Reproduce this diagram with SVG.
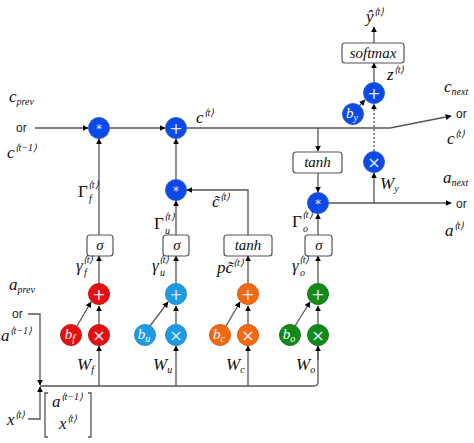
<svg xmlns="http://www.w3.org/2000/svg" width="474" height="443" viewBox="0 0 474 443">
<defs>
<marker id="ah" viewBox="0 0 10 10" refX="9" refY="5" markerWidth="6" markerHeight="6" orient="auto" markerUnits="userSpaceOnUse"><path d="M0,0 L10,5 L0,10 z" fill="#000"/></marker>
</defs>
<style>
.ln{fill:none;stroke:#555;stroke-width:1.3}
.ar{marker-end:url(#ah)}
.dot{stroke-dasharray:2,2}
.bx{fill:#fff;stroke:#555;stroke-width:1.2}
.m{font-family:"Liberation Serif","Times New Roman",serif;font-style:italic;font-size:17px;fill:#111}
.up{font-style:normal}
.s{font-size:10px}
.bt{font-family:"Liberation Serif","Times New Roman",serif;font-style:italic;font-size:15px;fill:#111;text-anchor:middle}
.or{font-family:"Liberation Sans",Arial,sans-serif;font-size:12px;fill:#222}
.op{font-family:"DejaVu Sans","Liberation Sans",sans-serif;font-size:16px;fill:#dfe8ff;text-anchor:middle}
.st{font-size:12px}
.bl{font-family:"Liberation Serif","Times New Roman",serif;font-style:italic;font-size:15px;fill:#fff;text-anchor:middle}
.blue{fill:#0b4ae6;stroke:#2d5fd0;stroke-width:1}
.red{fill:#e3100f;stroke:#c01818;stroke-width:1}
.lb{fill:#1d9be6;stroke:#2a88c8;stroke-width:1}
.org{fill:#f26910;stroke:#d85a10;stroke-width:1}
.grn{fill:#13891a;stroke:#137a18;stroke-width:1}
</style>
<g id="connectors">
<path class="ln ar" d="M35,128 H88"/>
<path class="ln ar" d="M110,128 H165"/>
<path class="ln ar" d="M187,128 H390 L451,116"/>
<path class="ln ar" d="M318,128 V151"/>
<path class="ln ar" d="M318,173 V192"/>
<path class="ln ar" d="M329,203 H451"/>
<path class="ln ar" d="M374,203 V173"/>
<path class="ln ar dot" d="M374,151 V104"/>
<path class="ln ar" d="M374,82 V63"/>
<path class="ln ar" d="M374,43 V27"/>
<path class="ln ar" d="M359,106 L365,100"/>
<path class="ln ar" d="M99,235 V139"/>
<path class="ln ar" d="M176,235 V201"/>
<path class="ln ar" d="M176,179 V139"/>
<path class="ln ar" d="M248,235 V190 H187"/>
<path class="ln ar" d="M318,235 V214"/>
<path class="ln ar" d="M99,324 V306"/>
<path class="ln ar" d="M176,324 V306"/>
<path class="ln ar" d="M248,324 V306"/>
<path class="ln ar" d="M318,324 V306"/>
<path class="ln ar" d="M99,283 V256"/>
<path class="ln ar" d="M176,283 V256"/>
<path class="ln ar" d="M248,283 V256"/>
<path class="ln ar" d="M318,283 V256"/>
<path class="ln ar" d="M77,326 L91,302"/>
<path class="ln ar" d="M150,326 L168,302"/>
<path class="ln ar" d="M226,326 L240,302"/>
<path class="ln ar" d="M295,326 L310,302"/>
<path class="ln" d="M40,386 H314 Q318,386 318,382 V346"/>
<path class="ln ar" d="M318,360 V346"/>
<path class="ln ar" d="M99,386 V346"/>
<path class="ln ar" d="M176,386 V346"/>
<path class="ln ar" d="M248,386 V346"/>
<path class="ln ar" d="M28,314 H40 V385"/>
<path class="ln ar" d="M28,419 H40 V387"/>
</g>
<g id="node-forget-mul"><circle class="blue" cx="99" cy="128" r="10.5"/><text class="op st" x="99" y="133">*</text></g>
<g id="node-c-add"><circle class="blue" cx="176" cy="128" r="10.5"/><text class="op" x="176" y="134">+</text></g>
<g id="node-update-mul"><circle class="blue" cx="176" cy="190" r="10.5"/><text class="op st" x="176" y="195">*</text></g>
<g id="node-out-mul"><circle class="blue" cx="318" cy="203" r="10.5"/><text class="op st" x="318" y="208">*</text></g>
<g id="node-tanh-c"><rect class="bx" x="293" y="152" width="49" height="21" rx="3"/><text class="bt" x="317.5" y="167">tanh</text></g>
<g id="node-wy-mul"><circle class="blue" cx="374" cy="162" r="10.5"/><text class="op" x="374" y="168">×</text></g>
<g id="node-y-add"><circle class="blue" cx="374" cy="93" r="10.5"/><text class="op" x="374" y="99">+</text></g>
<g id="node-by"><circle class="blue" cx="353" cy="114" r="10.5"/><text class="bl" x="352" y="118">b<tspan class="s" dy="3">y</tspan></text></g>
<g id="node-softmax"><rect class="bx" x="342" y="43" width="62" height="20" rx="3"/><text class="bt" x="373" y="58">softmax</text></g>

<g id="node-sig-f"><rect class="bx" x="87" y="235" width="26" height="21" rx="3"/><text class="bt" x="100" y="250">σ</text></g>
<g id="node-add-f"><circle class="red" cx="99" cy="294" r="10.5"/><text class="op" x="99" y="300">+</text></g>
<g id="node-mul-f"><circle class="red" cx="99" cy="335" r="10.5"/><text class="op" x="99" y="341">×</text></g>
<g id="node-bf"><circle class="red" cx="71" cy="335" r="10.5"/><text class="bl" x="70" y="339">b<tspan class="s" dy="3">f</tspan></text></g>

<g id="node-sig-u"><rect class="bx" x="163" y="235" width="26" height="21" rx="3"/><text class="bt" x="177" y="250">σ</text></g>
<g id="node-add-u"><circle class="lb" cx="176" cy="294" r="10.5"/><text class="op" x="176" y="300">+</text></g>
<g id="node-mul-u"><circle class="lb" cx="176" cy="335" r="10.5"/><text class="op" x="176" y="341">×</text></g>
<g id="node-bu"><circle class="lb" cx="145" cy="335" r="10.5"/><text class="bl" x="144" y="339">b<tspan class="s" dy="3">u</tspan></text></g>

<g id="node-tanh-cand"><rect class="bx" x="224" y="235" width="48" height="21" rx="3"/><text class="bt" x="248" y="250">tanh</text></g>
<g id="node-add-c"><circle class="org" cx="248" cy="294" r="10.5"/><text class="op" x="248" y="300">+</text></g>
<g id="node-mul-c"><circle class="org" cx="248" cy="335" r="10.5"/><text class="op" x="248" y="341">×</text></g>
<g id="node-bc"><circle class="org" cx="220" cy="335" r="10.5"/><text class="bl" x="219" y="339">b<tspan class="s" dy="3">c</tspan></text></g>

<g id="node-sig-o"><rect class="bx" x="305" y="235" width="27" height="21" rx="3"/><text class="bt" x="319" y="250">σ</text></g>
<g id="node-add-o"><circle class="grn" cx="318" cy="294" r="10.5"/><text class="op" x="318" y="300">+</text></g>
<g id="node-mul-o"><circle class="grn" cx="318" cy="335" r="10.5"/><text class="op" x="318" y="341">×</text></g>
<g id="node-bo"><circle class="grn" cx="290" cy="335" r="10.5"/><text class="bl" x="289" y="339">b<tspan class="s" dy="3">o</tspan></text></g>

<g id="labels">
<text class="m" x="9" y="102">c<tspan class="s" dy="3">prev</tspan></text>
<text class="or" x="16" y="132">or</text>
<text class="m" x="7" y="158">c<tspan class="s" dy="-7">⟨t−1⟩</tspan></text>
<text class="m" x="196" y="123">c<tspan class="s" dy="-7">⟨t⟩</tspan></text>
<text class="m" x="78" y="197"><tspan class="up">Γ</tspan><tspan class="s" dy="-9">⟨t⟩</tspan><tspan class="s" x="89" dy="14">f</tspan></text>
<text class="m" x="154" y="229"><tspan class="up">Γ</tspan><tspan class="s" dy="-9">⟨t⟩</tspan><tspan class="s" x="165" dy="14">u</tspan></text>
<text class="m" x="292" y="227"><tspan class="up">Γ</tspan><tspan class="s" dy="-9">⟨t⟩</tspan><tspan class="s" x="303" dy="14">o</tspan></text>
<text class="m" x="212" y="207">c̃<tspan class="s" dy="-7">⟨t⟩</tspan></text>
<text class="m" x="76" y="271">γ<tspan class="s" dy="-8">⟨t⟩</tspan><tspan class="s" x="84" dy="13">f</tspan></text>
<text class="m" x="152" y="271">γ<tspan class="s" dy="-8">⟨t⟩</tspan><tspan class="s" x="160" dy="13">u</tspan></text>
<text class="m" x="217" y="273">pc̃<tspan class="s" dy="-7">⟨t⟩</tspan></text>
<text class="m" x="292" y="271">γ<tspan class="s" dy="-8">⟨t⟩</tspan><tspan class="s" x="300" dy="13">o</tspan></text>
<text class="m" x="77" y="370">W<tspan class="s" dy="3">f</tspan></text>
<text class="m" x="153" y="370">W<tspan class="s" dy="3">u</tspan></text>
<text class="m" x="226" y="370">W<tspan class="s" dy="3">c</tspan></text>
<text class="m" x="296" y="370">W<tspan class="s" dy="3">o</tspan></text>
<text class="m" x="380" y="189">W<tspan class="s" dy="3">y</tspan></text>
<text class="m" x="387" y="80">z<tspan class="s" dy="-7">⟨t⟩</tspan></text>
<text class="m" x="366" y="22">ŷ<tspan class="s" dy="-7">⟨t⟩</tspan></text>
<text class="m" x="444" y="92">c<tspan class="s" dy="3">next</tspan></text>
<text class="or" x="456" y="118">or</text>
<text class="m" x="447" y="144">c<tspan class="s" dy="-7">⟨t⟩</tspan></text>
<text class="m" x="443" y="183">a<tspan class="s" dy="3">next</tspan></text>
<text class="or" x="456" y="208">or</text>
<text class="m" x="445" y="236">a<tspan class="s" dy="-7">⟨t⟩</tspan></text>
<text class="m" x="9" y="290">a<tspan class="s" dy="3">prev</tspan></text>
<text class="or" x="12" y="318">or</text>
<text class="m" x="1" y="341">a<tspan class="s" dy="-7">⟨t−1⟩</tspan></text>
<text class="m" x="7" y="425">x<tspan class="s" dy="-7">⟨t⟩</tspan></text>
<path class="ln" d="M48,393 H45 V437 H48 M88,393 H91 V437 H88"/>
<text class="m" x="52" y="407">a<tspan class="s" dy="-7">⟨t−1⟩</tspan></text>
<text class="m" x="59" y="429">x<tspan class="s" dy="-7">⟨t⟩</tspan></text>
</g>
</svg>
